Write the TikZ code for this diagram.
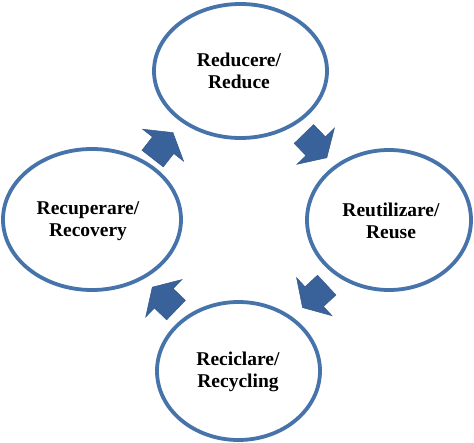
\documentclass[tikz,border=0pt]{standalone}
\usepackage{fontspec}
\setmainfont{Liberation Serif}
\usetikzlibrary{shapes.geometric}
\definecolor{ringblue}{RGB}{70,115,170}
\definecolor{arrowblue}{RGB}{57,98,155}
\definecolor{arrowedge}{RGB}{50,88,140}
\begin{document}
\begin{tikzpicture}[x=1pt,y=-1pt,
  ring/.style={ellipse, draw=ringblue, line width=3.8pt, inner sep=0pt, fill=white},
  lbl/.style={font=\fontsize{19.5}{22}\selectfont\bfseries, align=center, inner sep=0pt},
  arrowfill/.style={fill=arrowblue, draw=arrowedge, line width=0.5pt, line join=miter},
  cycarrow/.pic={\path[arrowfill] (-16,-13.5) -- (1,-13.5) -- (1,-26) -- (17,0) -- (1,26) -- (1,13.5) -- (-16,13.5) -- cycle;}]
\useasboundingbox (0,0) rectangle (474,443);
\fill[white] (0,0) rectangle (474,443);
% rings
\node[ring, minimum width=173pt, minimum height=134pt] (reduce) at (240.5,71) {};
\node[ring, minimum width=164pt, minimum height=140pt] (reuse) at (389,220) {};
\node[ring, minimum width=163pt, minimum height=138pt] (recycle) at (238.5,371) {};
\node[ring, minimum width=178pt, minimum height=141pt] (recover) at (92,219.5) {};
% labels
\node[lbl] (treduce) at (239,71) {Reducere/\\Reduce};
\node[lbl] (treuse) at (391,221) {Reutilizare/\\Reuse};
\node[lbl] (trecycle) at (238,372) {Reciclare/\\Recycling};
\node[lbl] (trecover) at (88,221) {Recuperare/\\Recovery};
% cycle arrows
\pic[rotate=52] at (162.5,146) {cycarrow};
\pic[rotate=-46] at (315,145.5) {cycarrow};
\pic[rotate=-137] at (315,296) {cycarrow};
\pic[rotate=136] at (164.5,299) {cycarrow};
\end{tikzpicture}
\end{document}
